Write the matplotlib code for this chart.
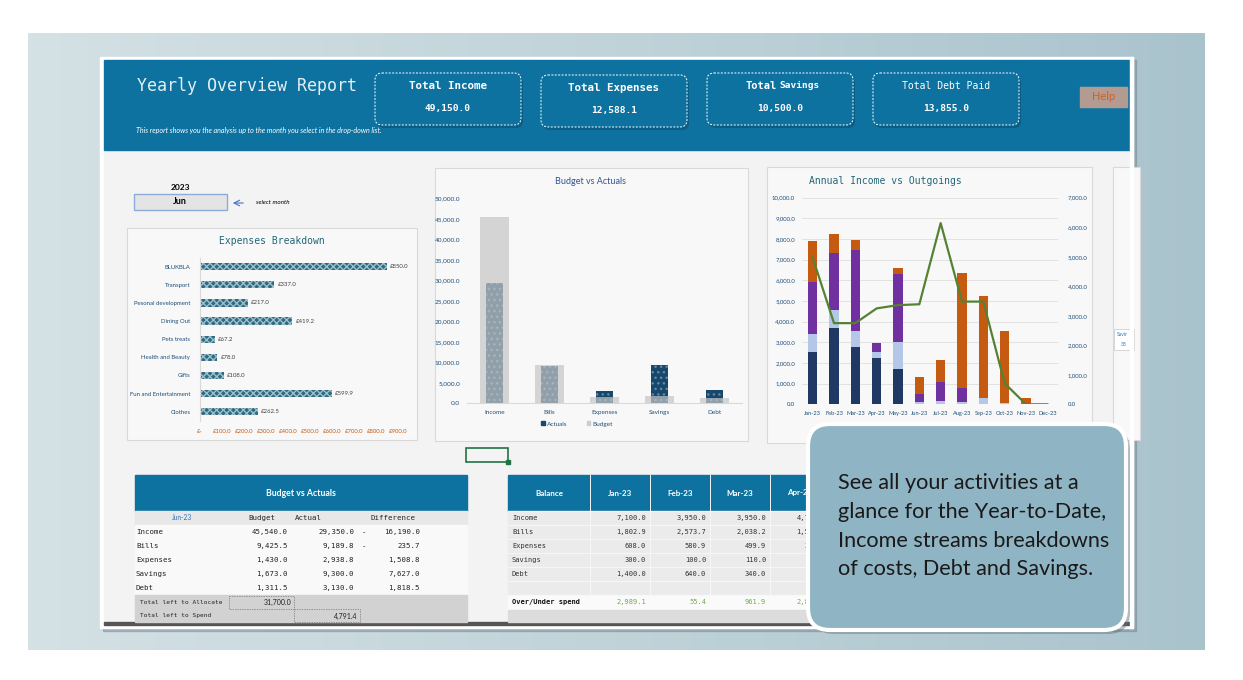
import numpy as np
import matplotlib
matplotlib.use('Agg')
import matplotlib.pyplot as plt
from matplotlib.patches import Rectangle, FancyBboxPatch, Patch

W, H = 1243, 680
MONO = 'DejaVu Sans Mono'
SANS = 'Lato'

# ---------------- data ----------------
kpi_titles = ['Total Income', 'Total Expenses', 'Total Savings', 'Total Debt Paid']
kpi_values = [49150.0, 12588.1, 10500.0, 13855.0]

exp_cats = ['BLUKBLA', 'Transport', 'Pesonal development', 'Dining Out', 'Pets treats',
            'Health and Beauty', 'Gifts', 'Fun and Entertainment', 'Clothes']
exp_vals = [850.0, 337.0, 217.0, 419.2, 67.2, 78.0, 108.0, 599.9, 262.5]
exp_ticks = [0, 100, 200, 300, 400, 500, 600, 700, 800, 900]

bva_cats = ['Income', 'Bills', 'Expenses', 'Savings', 'Debt']
bva_budget = [45540.0, 9425.5, 1430.0, 1673.0, 1311.5]
bva_actual = [29350.0, 9189.8, 2938.8, 9300.0, 3130.0]
bva_diff = [-16190.0, -235.7, 1508.8, 7627.0, 1818.5]

months = ['Jan-23', 'Feb-23', 'Mar-23', 'Apr-23', 'May-23', 'Jun-23',
          'Jul-23', 'Aug-23', 'Sep-23', 'Oct-23', 'Nov-23', 'Dec-23']
out_navy = [2550, 3690, 2790, 2230, 1710, 0, 0, 0, 0, 0, 0, 0]
out_light = [840, 860, 770, 290, 1320, 100, 150, 130, 290, 60, 0, 0]
out_purple = [2550, 2750, 3890, 430, 3290, 420, 950, 680, 0, 0, 0, 0]
out_orange = [1960, 930, 490, 0, 290, 790, 1030, 5540, 4940, 3500, 320, 0]
income_line = [4970, 2750, 2750, 3250, 3360, 3390, 6140, 3480, 3480, 710, 0, 0]

bal_rows = ['Income', 'Bills', 'Expenses', 'Savings', 'Debt']
bal_cols = ['Jan-23', 'Feb-23', 'Mar-23', 'Apr-23']
bal_income = [7100.0, 3950.0, 3950.0, 4780.0]
bal_bills = [1802.9, 2573.7, 2038.2, 1565.0]
bal_expenses = [608.0, 580.9, 499.9, 230.0]
bal_savings = [300.0, 100.0, 110.0, 80.0]
bal_debt = [1400.0, 640.0, 340.0, 0.0]
bal_over = [2989.1, 55.4, 961.9, 2834.0]

left_to_allocate = 31700.0
left_to_spend = 4791.4

callout_lines = ['See all your activities at a', 'glance for the Year-to-Date,',
                 'Income streams breakdowns', 'of costs, Debt and Savings.']

TEAL = '#0e72a0'


def rect(x0, y0, x1, y1):
    return [x0 / W, 1 - y1 / H, (x1 - x0) / W, (y1 - y0) / H]


fig = plt.figure(figsize=(W / 100, H / 100), dpi=100)
bg = fig.add_axes([0, 0, 1, 1])
bg.set_xlim(0, W)
bg.set_ylim(H, 0)
bg.axis('off')

# backdrop gradient
grad = np.linspace(0, 1, 256).reshape(1, -1)
cmap = matplotlib.colors.LinearSegmentedColormap.from_list('bd', ['#d4e1e5', '#c0d3d9', '#a9c3cd'])
bg.imshow(grad, extent=[28, 1205, 650, 33], aspect='auto', cmap=cmap, zorder=0)

# window
bg.add_patch(Rectangle((103, 60), 1033, 571, color='#7a8c94', alpha=0.5, zorder=1))
bg.add_patch(Rectangle((100, 57), 1033, 571, color='white', zorder=2))
bg.add_patch(Rectangle((104, 150), 1026, 473, color='#f3f3f3', zorder=3))
bg.add_patch(Rectangle((104, 622), 1026, 2.5, color='#555555', zorder=3))
bg.add_patch(Rectangle((104, 60), 1026, 90, color=TEAL, zorder=3))

# header texts
bg.text(137, 86, 'Yearly Overview Report', family=MONO, fontsize=12, color='#e3eef4', va='center', zorder=5)
bg.text(136, 131, 'This report shows you the analysis up to the month you select in the drop-down list.',
        family=SANS, style='italic', fontsize=5.1, color='white', va='center', zorder=5)

kpi_boxes = [(375, 73), (541, 75), (707, 73), (873, 73)]
for i, (bx, by) in enumerate(kpi_boxes):
    bg.add_patch(FancyBboxPatch((bx + 2, by + 3), 146, 52, boxstyle='round,pad=0,rounding_size=7',
                                facecolor='#0a4f70', edgecolor='none', alpha=0.6, zorder=4))
    bg.add_patch(FancyBboxPatch((bx, by), 146, 52, boxstyle='round,pad=0,rounding_size=7',
                                facecolor=TEAL, edgecolor='white', lw=0.7, ls=(0, (2, 1.5)), zorder=4))
    cx = bx + 73
    val = f'{kpi_values[i]:,.1f}'
    if i == 2:
        bg.text(cx - 3, by + 13, 'Total', family=MONO, weight='bold', fontsize=7.5, color='white',
                ha='right', va='center', zorder=5)
        bg.text(cx - 1, by + 13, 'Savings', family=MONO, weight='bold', fontsize=6.8, color='white',
                ha='left', va='center', zorder=5)
    else:
        bg.text(cx, by + 13, kpi_titles[i], family=MONO, weight='normal' if i == 3 else 'bold',
                fontsize=7.8 if i < 3 else 7.0, color='white', ha='center', va='center', zorder=5)
    bg.text(cx, by + 36, val, family=MONO, weight='bold', fontsize=6.8, color='white',
            ha='center', va='center', zorder=5)

bg.add_patch(Rectangle((1080, 87), 47, 20, color='#b39b91', zorder=4))
bg.text(1103.5, 97, 'Help', family=SANS, fontsize=8, color='#d45f1c', ha='center', va='center', zorder=5)

# month selector
bg.text(180, 187, '2023', family=SANS, weight='bold', fontsize=6, ha='center', va='center', zorder=5)
bg.add_patch(Rectangle((134, 194), 93, 16, facecolor='#e4e4e4', edgecolor='#8eaadb', lw=1, zorder=4))
bg.text(180, 202, 'Jun', family=SANS, weight='bold', fontsize=6.5, ha='center', va='center', zorder=5)
bg.annotate('', xy=(230, 203), xytext=(246, 203),
            arrowprops=dict(arrowstyle='->', color='#4472c4', lw=0.8), zorder=5)
bg.text(256, 203, 'select month', family=SANS, style='italic', fontsize=4.5, va='center', zorder=5)

# chart frames
for (x0, y0, x1, y1) in [(127, 228, 417, 440), (435, 168, 748, 441), (767, 167, 1092, 443),
                         (1113, 167, 1140, 440)]:
    bg.add_patch(Rectangle((x0, y0), x1 - x0, y1 - y0, facecolor='#f8f8f8', edgecolor='#d9d9d9',
                           lw=0.8, zorder=4))
bg.add_patch(Rectangle((1114, 329), 20, 21, facecolor='white', edgecolor='#cfcfcf', lw=0.6, zorder=5))
bg.text(1117, 335, 'Savir', family=SANS, fontsize=3.6, color='#2e75b6', va='center', zorder=6)
bg.text(1121, 344, '38', family=SANS, fontsize=3.6, color='#2e75b6', va='center', zorder=6)
bg.add_patch(Rectangle((1130, 57), 3, 571, color='white', zorder=7))

# selected cell
bg.add_patch(Rectangle((466, 448), 42, 14, facecolor='none', edgecolor='#217346', lw=1.2, zorder=5))
bg.add_patch(Rectangle((506, 460), 4, 4, color='#217346', zorder=5))

# ---------------- expenses breakdown ----------------
bg.text(272, 241, 'Expenses Breakdown', family=MONO, fontsize=7, color='#21677a', ha='center',
        va='center', zorder=5)
ax1 = fig.add_axes(rect(200, 257.6, 398, 420.8))
ax1.patch.set_alpha(0)
ypos = np.arange(len(exp_cats))
ax1.barh(ypos, exp_vals, height=0.4, color='#2e6a80', edgecolor='#9dbfcb', hatch='xxxxx', lw=0)
for y, v in zip(ypos, exp_vals):
    ax1.text(v + 15, y, f'£{v:,.1f}', family=SANS, fontsize=4.3, color='#404040', va='center')
ax1.set_xlim(0, 900)
ax1.set_ylim(len(exp_cats) - 0.5, -0.5)
ax1.set_yticks(ypos)
ax1.set_yticklabels(exp_cats, family=SANS, fontsize=4.3, color='#1f4e79')
ax1.set_xticks(exp_ticks)
ax1.set_xticklabels(['£-'] + [f'£{t:.1f}' for t in exp_ticks[1:]], family=SANS, fontsize=4.3,
                    color='#c55a11')
ax1.tick_params(length=0, pad=6)
ax1.tick_params(axis='y', pad=7)
for s in ['top', 'right', 'bottom']:
    ax1.spines[s].set_visible(False)
ax1.spines['left'].set_color('#d9d9d9')

# ---------------- budget vs actuals chart ----------------
bg.text(591, 182, 'Budget vs Actuals', family=SANS, fontsize=6.5, color='#2f5597', ha='center',
        va='center', zorder=5)
ax2 = fig.add_axes(rect(467, 198.3, 742, 403.3))
ax2.patch.set_alpha(0)
xpos = np.arange(len(bva_cats))
ax2.bar(xpos, bva_actual, width=0.31, color='#17476a', edgecolor='#5f8aa6', hatch='...', lw=0,
        label='Actuals', zorder=2)
ax2.bar(xpos, bva_budget, width=0.53, color='#c6c6c6', alpha=0.7, lw=0, label='Budget', zorder=3)
ax2.set_xlim(-0.5, len(bva_cats) - 0.5)
ax2.set_ylim(0, 50000)
ax2.set_yticks(np.arange(0, 50001, 5000))
ax2.set_yticklabels([f'{t:,.1f}' for t in np.arange(0, 50001, 5000)], family=SANS, fontsize=4.6,
                    color='#1f4e79')
ax2.set_xticks(xpos)
ax2.set_xticklabels(bva_cats, family=SANS, fontsize=4.6, color='#1f4e79')
ax2.tick_params(length=0, pad=5)
for s in ['top', 'right', 'left']:
    ax2.spines[s].set_visible(False)
ax2.spines['bottom'].set_color('#d9d9d9')
ax2.legend(handles=[Patch(color='#17476a', label='Actuals'), Patch(color='#cdcdcd', label='Budget')],
           loc='upper center', bbox_to_anchor=(0.4, -0.06), ncol=2, frameon=False,
           prop={'family': SANS, 'size': 4.6}, handlelength=0.6, handleheight=0.6,
           handletextpad=0.3, columnspacing=3, labelcolor='#1f4e79')

# ---------------- annual income vs outgoings ----------------
bg.text(885, 181, 'Annual Income vs Outgoings', family=MONO, fontsize=7, color='#21677a',
        ha='center', va='center', zorder=5)
ax3 = fig.add_axes(rect(802, 197.7, 1058, 404.3))
ax3.patch.set_alpha(0)
mpos = np.arange(len(months))
bottom = np.zeros(len(months))
for vals, col in [(out_navy, '#203864'), (out_light, '#b4c7e7'), (out_purple, '#7030a0'),
                  (out_orange, '#c55a11')]:
    ax3.bar(mpos, vals, bottom=bottom, width=0.44, color=col, lw=0, zorder=2)
    bottom = bottom + np.array(vals)
ax3.set_xlim(-0.5, len(months) - 0.5)
ax3.set_ylim(0, 10000)
ax3.set_yticks(np.arange(0, 10001, 1000))
ax3.set_yticklabels([f'{t:,.1f}' for t in np.arange(0, 10001, 1000)], family=SANS, fontsize=4.3,
                    color='#1f4e79')
ax3.grid(axis='y', color='#e2e2e2', lw=0.7, zorder=0)
ax3.set_axisbelow(True)
ax3.set_xticks(mpos)
ax3.set_xticklabels(months, family=SANS, fontsize=4.1, color='#1f4e79')
ax3.tick_params(length=0, pad=5)
for s in ax3.spines.values():
    s.set_visible(False)
ax3b = ax3.twinx()
ax3b.plot(mpos, income_line, color='#548235', lw=1.6, zorder=3)
ax3b.set_ylim(0, 7000)
ax3b.set_yticks(np.arange(0, 7001, 1000))
ax3b.set_yticklabels([f'{t:,.1f}' for t in np.arange(0, 7001, 1000)], family=SANS, fontsize=4.3,
                     color='#1f4e79')
ax3b.tick_params(length=0, pad=7)
for s in ax3b.spines.values():
    s.set_visible(False)

# ---------------- budget vs actuals table ----------------
bg.add_patch(Rectangle((135, 475), 332, 36, color=TEAL, zorder=4))
bg.text(301, 493, 'Budget vs Actuals', family=SANS, weight='bold', fontsize=6.3, color='white',
        ha='center', va='center', zorder=5)
bg.add_patch(Rectangle((135, 511), 332, 14, color='#e8e8e8', zorder=4))
bg.add_patch(Rectangle((135, 525), 332, 70, color='#f9f9f9', zorder=4))
bg.text(182, 518, 'Jun-23', family=SANS, fontsize=4.8, color='#2e75b6', ha='center', va='center', zorder=5)
for lab, x in [('Budget', 262), ('Actual', 308), ('Difference', 393)]:
    bg.text(x, 518, lab, family=MONO, fontsize=5.3, color='#222222', ha='center', va='center', zorder=5)
for i, lab in enumerate(bva_cats):
    y = 532 + 14 * i
    bg.text(136, y, lab, family=MONO, fontsize=5.3, color='#222222', va='center', zorder=5)
    bg.text(288, y, f'{bva_budget[i]:,.1f}', family=MONO, fontsize=5.3, color='#222222',
            ha='right', va='center', zorder=5)
    bg.text(354, y, f'{bva_actual[i]:,.1f}', family=MONO, fontsize=5.3, color='#222222',
            ha='right', va='center', zorder=5)
    if bva_diff[i] < 0:
        bg.text(364, y, '-', family=MONO, fontsize=5.3, color='#222222', ha='center', va='center', zorder=5)
    bg.text(420, y, f'{abs(bva_diff[i]):,.1f}', family=MONO, fontsize=5.3, color='#222222',
            ha='right', va='center', zorder=5)
bg.add_patch(Rectangle((135, 595), 332, 27, color='#d2d2d2', zorder=4))
bg.text(140, 602, 'Total left to Allocate', family=MONO, fontsize=4.4, color='#222222', va='center', zorder=5)
bg.text(140, 616, 'Total left to Spend', family=MONO, fontsize=4.4, color='#222222', va='center', zorder=5)
bg.add_patch(Rectangle((229, 596), 65, 13, facecolor='none', edgecolor='#777777', lw=0.5,
                       ls=(0, (2, 1.5)), zorder=5))
bg.add_patch(Rectangle((294, 609), 66, 13, facecolor='none', edgecolor='#777777', lw=0.5,
                       ls=(0, (2, 1.5)), zorder=5))
bg.text(292, 602, f'{left_to_allocate:,.1f}', family=SANS, fontsize=5, color='#222222', ha='right',
        va='center', zorder=5)
bg.text(357, 616, f'{left_to_spend:,.1f}', family=SANS, fontsize=5, color='#222222', ha='right',
        va='center', zorder=5)

# ---------------- balance table ----------------
bal_data = [bal_income, bal_bills, bal_expenses, bal_savings, bal_debt]
col_edges = [508, 590, 650, 710, 770, 830]
bg.add_patch(Rectangle((508, 475), 322, 36, color=TEAL, zorder=4))
bg.add_patch(Rectangle((508, 511), 322, 84, color='#ebebeb', zorder=4))
bg.add_patch(Rectangle((508, 595), 322, 15, color='#fafafa', zorder=4))
bg.add_patch(Rectangle((508, 610), 322, 12, color='#dcdcdc', zorder=4))
for xe in col_edges[1:-1]:
    bg.plot([xe, xe], [475, 595], color='#f7f7f7', lw=0.7, zorder=5)
for k in range(7):
    bg.plot([508, 830], [511 + 14 * k, 511 + 14 * k], color='#f7f7f7', lw=0.7, zorder=5)
bg.text(549, 493, 'Balance', family=SANS, weight='bold', fontsize=5.8, color='white', ha='center',
        va='center', zorder=5)
for j, c in enumerate(bal_cols):
    bg.text((col_edges[j + 1] + col_edges[j + 2]) / 2, 493, c, family=SANS, weight='bold', fontsize=5.8,
            color='white', ha='center', va='center', zorder=5)
for i, lab in enumerate(bal_rows):
    y = 518 + 14 * i
    bg.text(512, y, lab, family=MONO, fontsize=5, color='#333333', va='center', zorder=5)
    for j in range(len(bal_cols)):
        v = bal_data[i][j]
        if v:
            bg.text(col_edges[j + 2] - 4, y, f'{v:,.1f}', family=MONO, fontsize=5, color='#333333',
                    ha='right', va='center', zorder=5)
bg.text(512, 602, 'Over/Under spend', family=MONO, weight='bold', fontsize=5, color='#111111',
        va='center', zorder=5)
for j in range(len(bal_cols)):
    bg.text(col_edges[j + 2] - 4, 602, f'{bal_over[j]:,.1f}', family=MONO, fontsize=5, color='#70ad47',
            ha='right', va='center', zorder=5)

# ---------------- callout ----------------
fg = fig.add_axes([0, 0, 1, 1])
fg.set_xlim(0, W)
fg.set_ylim(H, 0)
fg.axis('off')
fg.patch.set_alpha(0)
fg.add_patch(FancyBboxPatch((812, 428), 318, 206, boxstyle='round,pad=0,rounding_size=22',
                            facecolor='#5f7680', edgecolor='none', alpha=0.45))
fg.add_patch(FancyBboxPatch((808, 424), 318, 206, boxstyle='round,pad=0,rounding_size=22',
                            facecolor='#8fb4c4', edgecolor='white', lw=3))
for k, line in enumerate(callout_lines):
    fg.text(838, 483 + 28.8 * k, line, family=SANS, fontsize=15.6, color='#1a1a1a', va='center')

fig.savefig('out.png', dpi=100)
